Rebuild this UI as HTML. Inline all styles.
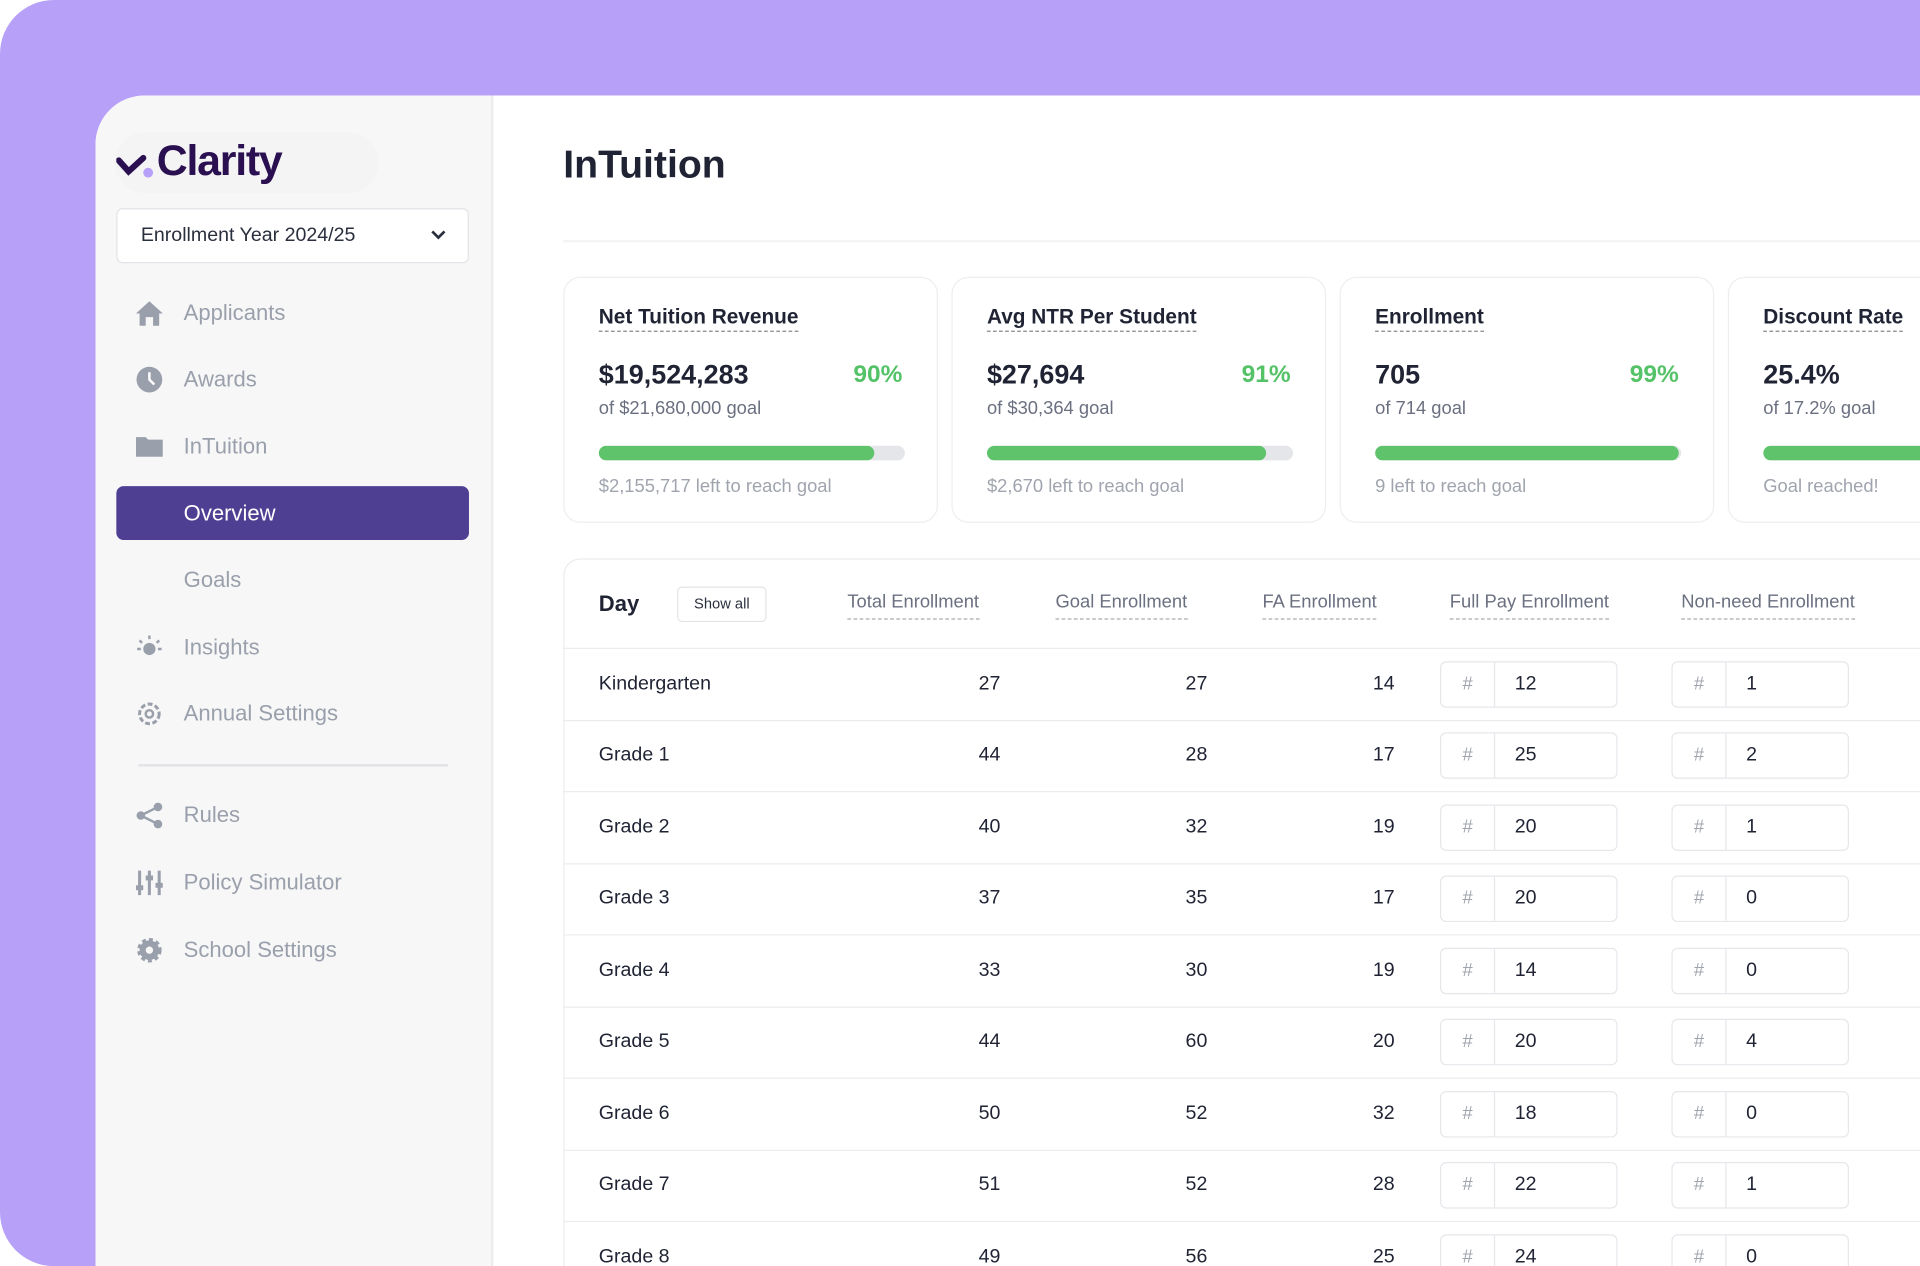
<!DOCTYPE html>
<html><head><meta charset="utf-8"><style>
*{box-sizing:border-box;margin:0;padding:0}
html,body{width:1920px;height:1266px;overflow:hidden;background:#fff;font-family:"Liberation Sans",sans-serif}
#wrap{position:absolute;left:0;top:0;width:1568px;height:1034px;transform:scale(1.22449);transform-origin:0 0}
.abs{position:absolute}
#bg{left:0;top:0;width:1568px;height:1034px;background:#b7a0f8;border-radius:44px 0 0 44px}
#panel{left:78px;top:78px;width:1490px;height:956px;background:#fff;border-radius:40px 0 0 0;overflow:hidden}
#side{left:0;top:0;width:325px;height:956px;background:#f7f7f8;border-right:2px solid #ececef}
.nav{position:absolute;left:72px;font-size:18px;color:#9aa0ab;transform:translateY(-50%)}
.ico{position:absolute;left:33px;width:22px;height:22px;transform:translateY(-50%)}
.card{position:absolute;top:148px;width:306px;height:201px;border:1.5px solid #eeeef1;border-radius:14px;background:#fff}
.ct{position:absolute;left:28px;top:22px;font-size:17px;font-weight:bold;color:#1f2333;border-bottom:1.5px dashed #888;white-space:nowrap;padding-bottom:1px}
.cv{position:absolute;left:28px;top:66px;font-size:22px;color:#1f2333;font-weight:bold}
.cp{position:absolute;right:28px;top:68px;font-size:20px;color:#54c266;font-weight:bold}
.cs{position:absolute;left:28px;top:98px;font-size:15px;color:#6b7080}
.bar{position:absolute;left:28px;top:137px;width:250px;height:12px;background:#e5e6ea;border-radius:6px;overflow:hidden}
.fill{height:12px;background:#5fc36b;border-radius:6px}
.cf{position:absolute;left:28px;top:162px;font-size:15px;color:#a0a4ae}
.hl{position:absolute;top:26px;font-size:15px;color:#6b7080;border-bottom:1.5px dashed #aaa;padding-bottom:5px;white-space:nowrap}
.row{position:absolute;left:0;width:1200px;height:58.5px;border-top:1.5px solid #ececef}
.rl{position:absolute;left:28px;top:50%;transform:translateY(-50%);font-size:16px;color:#1f2333}
.num{position:absolute;top:50%;transform:translateY(-50%);font-size:16px;color:#1f2333;text-align:right;width:60px}
.inp{position:absolute;top:50%;transform:translateY(-50%);width:145px;height:38px;border:1.5px solid #e6e7eb;border-radius:5px;background:#fff}
.inp .h{position:absolute;left:0;top:0;width:44px;height:100%;border-right:1.5px solid #e6e7eb;color:#a0a4ae;font-size:15px;text-align:center;line-height:35px}
.inp .v{position:absolute;left:60px;top:0;line-height:35px;font-size:16px;color:#1f2333}
</style></head><body>
<div id="wrap">
<div id="bg" class="abs"></div>
<div id="panel" class="abs">
 <div id="side" class="abs">
  <div class="abs" style="left:16px;top:30px;width:215px;height:50px;background:#f4f4f5;border-radius:25px"></div>
  <div class="abs" style="left:17px;top:34px;font-size:35px;font-weight:bold;color:#2a1050;letter-spacing:-1px"><svg width="32" height="24" viewBox="0 0 32 24" style="vertical-align:-2px;margin-right:1px"><path d="M2 10 L10 19 L22 8" stroke="#2a1050" stroke-width="5" fill="none" stroke-linecap="round"/><circle cx="26" cy="20" r="4" fill="#b7a0f8"/></svg>Clarity</div>
  <div class="abs" style="left:17px;top:92px;width:288px;height:45px;background:#fff;border:1.5px solid #e3e4e8;border-radius:5px">
   <span class="abs" style="left:19px;top:13px;font-size:16px;color:#2a2f3d">Enrollment Year 2024/25</span>
   <svg class="abs" style="left:255px;top:15px" width="14" height="12" viewBox="0 0 14 12"><path d="M2 3 L7 8 L12 3" stroke="#2a2f3d" stroke-width="2.2" fill="none"/></svg>
  </div>
  <svg class="ico" style="top:178px" viewBox="0 0 22 22"><path d="M11 1 L22 11 H19 V21 H14 V14 H8 V21 H3 V11 H0 Z" fill="#9aa0ab"/></svg>
  <div class="nav" style="top:178px">Applicants</div>
  <svg class="ico" style="top:232px" viewBox="0 0 22 22"><circle cx="11" cy="11" r="10.5" fill="#9aa0ab"/><path d="M11 5 V11 L15 15" stroke="#fff" stroke-width="2" fill="none"/></svg>
  <div class="nav" style="top:232px">Awards</div>
  <svg class="ico" style="top:287px" viewBox="0 0 22 22"><path d="M0 3 H8 L10 5 H22 V19 H0 Z" fill="#9aa0ab"/></svg>
  <div class="nav" style="top:287px">InTuition</div>
  <div class="abs" style="left:17px;top:319px;width:288px;height:44px;background:#4f3f93;border-radius:6px"><span class="abs" style="left:55px;top:12px;font-size:18px;color:#fff">Overview</span></div>
  <div class="nav" style="top:396px">Goals</div>
  <svg class="ico" style="top:451px" viewBox="0 0 22 22"><circle cx="11" cy="12" r="5" fill="#9aa0ab"/><path d="M11 1V4M3 5L5 7M19 5L17 7M1 12H4M18 12H21" stroke="#9aa0ab" stroke-width="2"/></svg>
  <div class="nav" style="top:451px">Insights</div>
  <svg class="ico" style="top:505px" viewBox="0 0 22 22"><circle cx="11" cy="11" r="8" stroke="#9aa0ab" stroke-width="2.5" fill="none" stroke-dasharray="4 2"/><circle cx="11" cy="11" r="3" stroke="#9aa0ab" stroke-width="2" fill="none"/></svg>
  <div class="nav" style="top:505px">Annual Settings</div>
  <div class="abs" style="left:35px;top:546px;width:253px;height:2px;background:#e2e3e7"></div>
  <svg class="ico" style="top:588px" viewBox="0 0 22 22"><circle cx="4" cy="11" r="3.5" fill="#9aa0ab"/><circle cx="18" cy="4" r="3.5" fill="#9aa0ab"/><circle cx="18" cy="18" r="3.5" fill="#9aa0ab"/><path d="M4 11L18 4M4 11L18 18" stroke="#9aa0ab" stroke-width="2"/></svg>
  <div class="nav" style="top:588px">Rules</div>
  <svg class="ico" style="top:643px" viewBox="0 0 22 22"><path d="M3 1V21M11 1V21M19 1V21" stroke="#9aa0ab" stroke-width="2.5"/><rect x="0" y="13" width="6" height="4" fill="#9aa0ab"/><rect x="8" y="5" width="6" height="4" fill="#9aa0ab"/><rect x="16" y="11" width="6" height="4" fill="#9aa0ab"/></svg>
  <div class="nav" style="top:643px">Policy Simulator</div>
  <svg class="ico" style="top:698px" viewBox="0 0 22 22"><circle cx="11" cy="11" r="8" fill="#9aa0ab" stroke="#9aa0ab" stroke-width="4" stroke-dasharray="3 2.3"/><circle cx="11" cy="11" r="3" fill="#f7f7f8"/></svg>
  <div class="nav" style="top:698px">School Settings</div>
 </div>
 <div class="abs" style="left:382px;top:38px;font-size:32px;font-weight:bold;color:#1f2333">InTuition</div>
 <div class="abs" style="left:382px;top:118px;width:1108px;height:1.5px;background:#f4f4f6"></div>
 <div id="cards"></div>
 <div class="abs" id="table" style="left:382px;top:378px;width:1200px;height:600px;border:1.5px solid #ececef;border-radius:14px;background:#fff">
  <div class="abs" style="left:28px;top:26px;font-size:18px;font-weight:bold;color:#1f2333">Day</div>
  <div class="abs" style="left:92px;top:22px;width:73px;height:29px;border:1.5px solid #e3e4e8;border-radius:4px;font-size:12px;color:#2a2f3d;text-align:center;line-height:26px">Show all</div>
  <div class="hl" style="left:231px">Total Enrollment</div>
  <div class="hl" style="left:401px">Goal Enrollment</div>
  <div class="hl" style="left:570px">FA Enrollment</div>
  <div class="hl" style="left:723px">Full Pay Enrollment</div>
  <div class="hl" style="left:912px">Non-need Enrollment</div>
 </div>
</div>
</div>
<script>
const cardTitles=["Net Tuition Revenue","Avg NTR Per Student","Enrollment","Discount Rate"];
const cardValues=["$19,524,283","$27,694","705","25.4%"];
const cardPercents=["90%","91%","99%",""];
const cardGoals=["of $21,680,000 goal","of $30,364 goal","of 714 goal","of 17.2% goal"];
const cardProgress=[0.9,0.91,0.99,1];
const cardFooters=["$2,155,717 left to reach goal","$2,670 left to reach goal","9 left to reach goal","Goal reached!"];
const grades=["Kindergarten","Grade 1","Grade 2","Grade 3","Grade 4","Grade 5","Grade 6","Grade 7","Grade 8"];
const totalEnroll=[27,44,40,37,33,44,50,51,49];
const goalEnroll=[27,28,32,35,30,60,52,52,56];
const faEnroll=[14,17,19,17,19,20,32,28,25];
const fullPay=[12,25,20,20,14,20,18,22,24];
const nonNeed=[1,2,1,0,0,4,0,1,0];
const panel=document.getElementById('panel');
cardTitles.forEach((t,i)=>{
 const c=document.createElement('div');c.className='card';c.style.left=(382+i*317)+'px';
 
 
 c.innerHTML=`<div class="ct">${t}</div><div class="cv">${cardValues[i]}</div><div class="cp">${cardPercents[i]}</div><div class="cs">${cardGoals[i]}</div><div class="bar"><div class="fill" style="width:${cardProgress[i]*100}%"></div></div><div class="cf">${cardFooters[i]}</div>`;
 panel.appendChild(c);
});
const table=document.getElementById('table');
grades.forEach((g,i)=>{
 const r=document.createElement('div');r.className='row';r.style.top=(72+i*58.5)+'px';
 
 
 r.innerHTML=`<div class="rl">${g}</div><div class="num" style="left:296px">${totalEnroll[i]}</div><div class="num" style="left:465px">${goalEnroll[i]}</div><div class="num" style="left:618px">${faEnroll[i]}</div><div class="inp" style="left:715px"><div class="h">#</div><div class="v">${fullPay[i]}</div></div><div class="inp" style="left:904px"><div class="h">#</div><div class="v">${nonNeed[i]}</div></div>`;
 table.appendChild(r);
});
</script>
</body></html>
